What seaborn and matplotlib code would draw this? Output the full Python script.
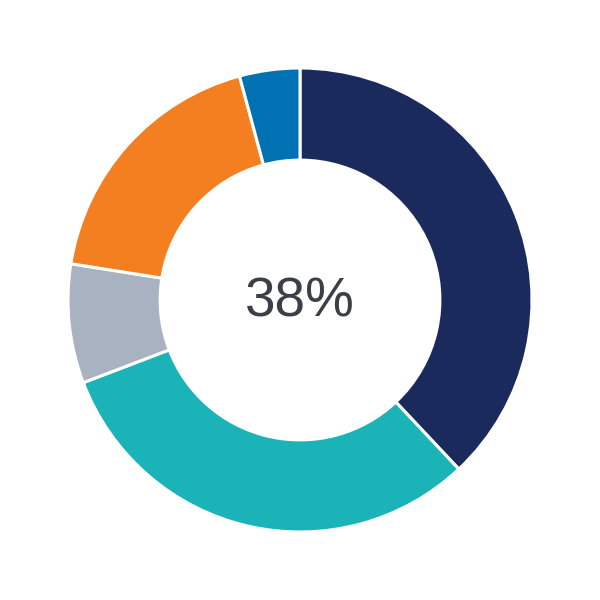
import matplotlib
matplotlib.use('Agg')
import matplotlib.pyplot as plt
import seaborn as sns

# slice shares, clockwise from 12 o'clock
segments = ['A', 'B', 'C', 'D', 'E']
shares = [38, 31.2, 8.3, 18.3, 4.2]
colors = ['#1b2a5c', '#1ab3b7', '#a8b2c0', '#f47f20', '#0071b3']
center_label = '38%'

sns.set_theme(style='white')
plt.rcParams['font.family'] = ['Liberation Sans', 'DejaVu Sans']

fig = plt.figure(figsize=(6, 6), dpi=100)
ax = fig.add_axes([0, 0, 1, 1])
ax.pie(shares, colors=colors, startangle=90, counterclock=False,
       radius=1.0, wedgeprops=dict(width=0.397, edgecolor='white', linewidth=2.2))
lim = 300 / 232
ax.set_xlim(-lim, lim)
ax.set_ylim(-lim, lim)
ax.set_aspect('equal')
ax.axis('off')
ax.text(0, -0.01, center_label, ha='center', va='center', fontsize=39.5, color='#3b3f48')

fig.savefig('out.png', dpi=100, facecolor='white')
